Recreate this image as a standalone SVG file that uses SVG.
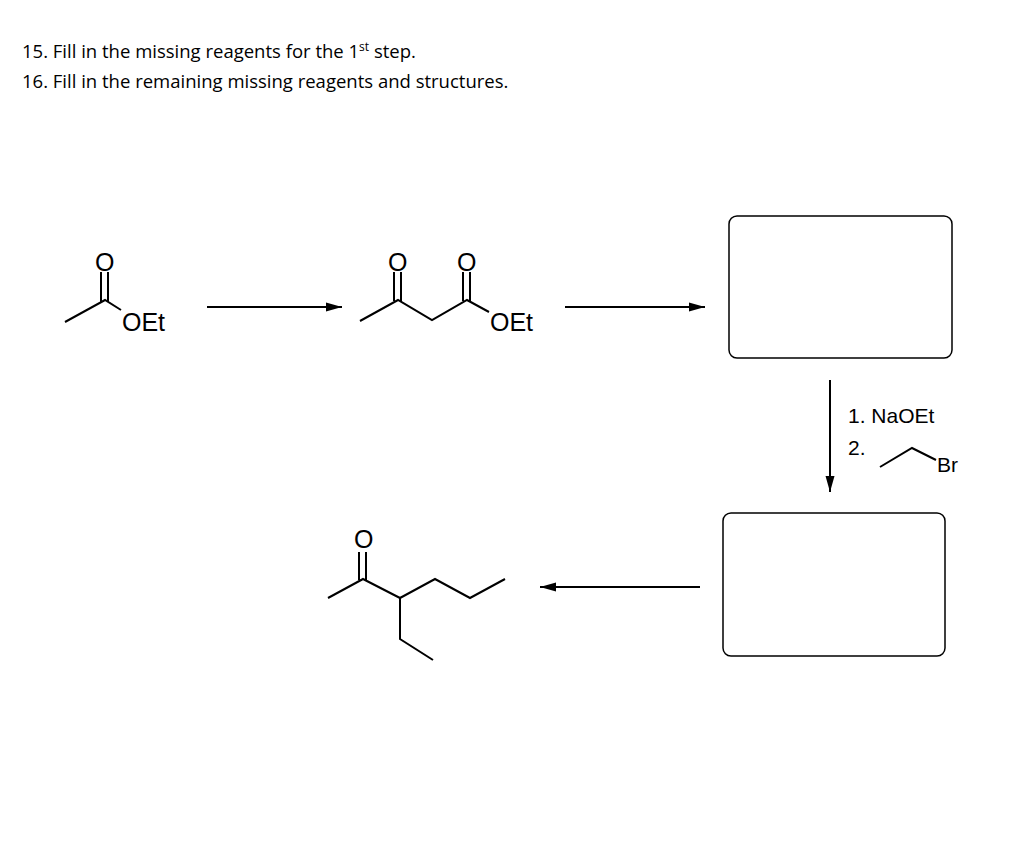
<svg xmlns="http://www.w3.org/2000/svg" width="1012" height="844" viewBox="0 0 1012 844">
<defs>
<style>
.h{font-family:"Open Sans","Liberation Sans",sans-serif;font-size:18.5px;font-weight:500;fill:#000}
.a{font-family:"Liberation Sans",Arial,sans-serif;font-size:21px;fill:#000}
.c{font-family:"Liberation Sans",Arial,sans-serif;font-size:25px;fill:#000}
.b{stroke:#000;stroke-width:2;fill:none}
.box{stroke:#000;stroke-width:1.5;fill:#fff}
</style>
<marker id="ah" viewBox="0 0 16 10" refX="16" refY="5" markerWidth="16" markerHeight="10" markerUnits="userSpaceOnUse" orient="auto"><path d="M0,0.5 L16,5 L0,9.5 z" fill="#000"/></marker>
</defs>
<rect width="1012" height="844" fill="#fff"/>
<text class="h" x="22" y="58">15. Fill in the missing reagents for the 1<tspan dy="-7" font-size="12">st</tspan><tspan dy="7"> step.</tspan></text>
<text class="h" x="22" y="88">16. Fill in the remaining missing reagents and structures.</text>
<g id="ethyl-acetate">
<path class="b" d="M65,322 L105,300 L121,310 M101,302 V272 M108,302 V272"/>
<text class="c" x="95" y="271">O</text>
<text class="c" x="122" y="331">OEt</text>
</g>
<g id="acetoacetate">
<path class="b" d="M360,321 L398,300 L432,320 L467,300 L489,312 M394,301 V272 M401,301 V272 M463,301 V272 M470,301 V272"/>
<text class="c" x="388" y="271">O</text>
<text class="c" x="457" y="271">O</text>
<text class="c" x="490" y="331">OEt</text>
</g>
<g id="box1"><rect class="box" x="729" y="216" width="223" height="142" rx="8"/></g>
<g id="reagents">
<text class="a" x="848" y="423">1. NaOEt</text>
<text class="a" x="848" y="455">2.</text>
<path class="b" d="M880,467 L912,448 L936,460"/>
<text class="a" x="937" y="472">Br</text>
</g>
<g id="box2"><rect class="box" x="723" y="513" width="222" height="143" rx="8"/></g>
<g id="ketone">
<path class="b" d="M328,598 L363,579 L400,598 L435,579 L470,598 L505,579 M400,598 V639 L433,660 M359,580 V552 M366,580 V552"/>
<text class="c" x="354" y="548">O</text>
</g>
<g id="connectors">
<line class="b" x1="207" y1="307" x2="342" y2="307" marker-end="url(#ah)"/>
<line class="b" x1="565" y1="307" x2="705" y2="307" marker-end="url(#ah)"/>
<line class="b" x1="830" y1="380" x2="830" y2="492" marker-end="url(#ah)"/>
<line class="b" x1="700" y1="587" x2="540" y2="587" marker-end="url(#ah)"/>
</g>
</svg>
